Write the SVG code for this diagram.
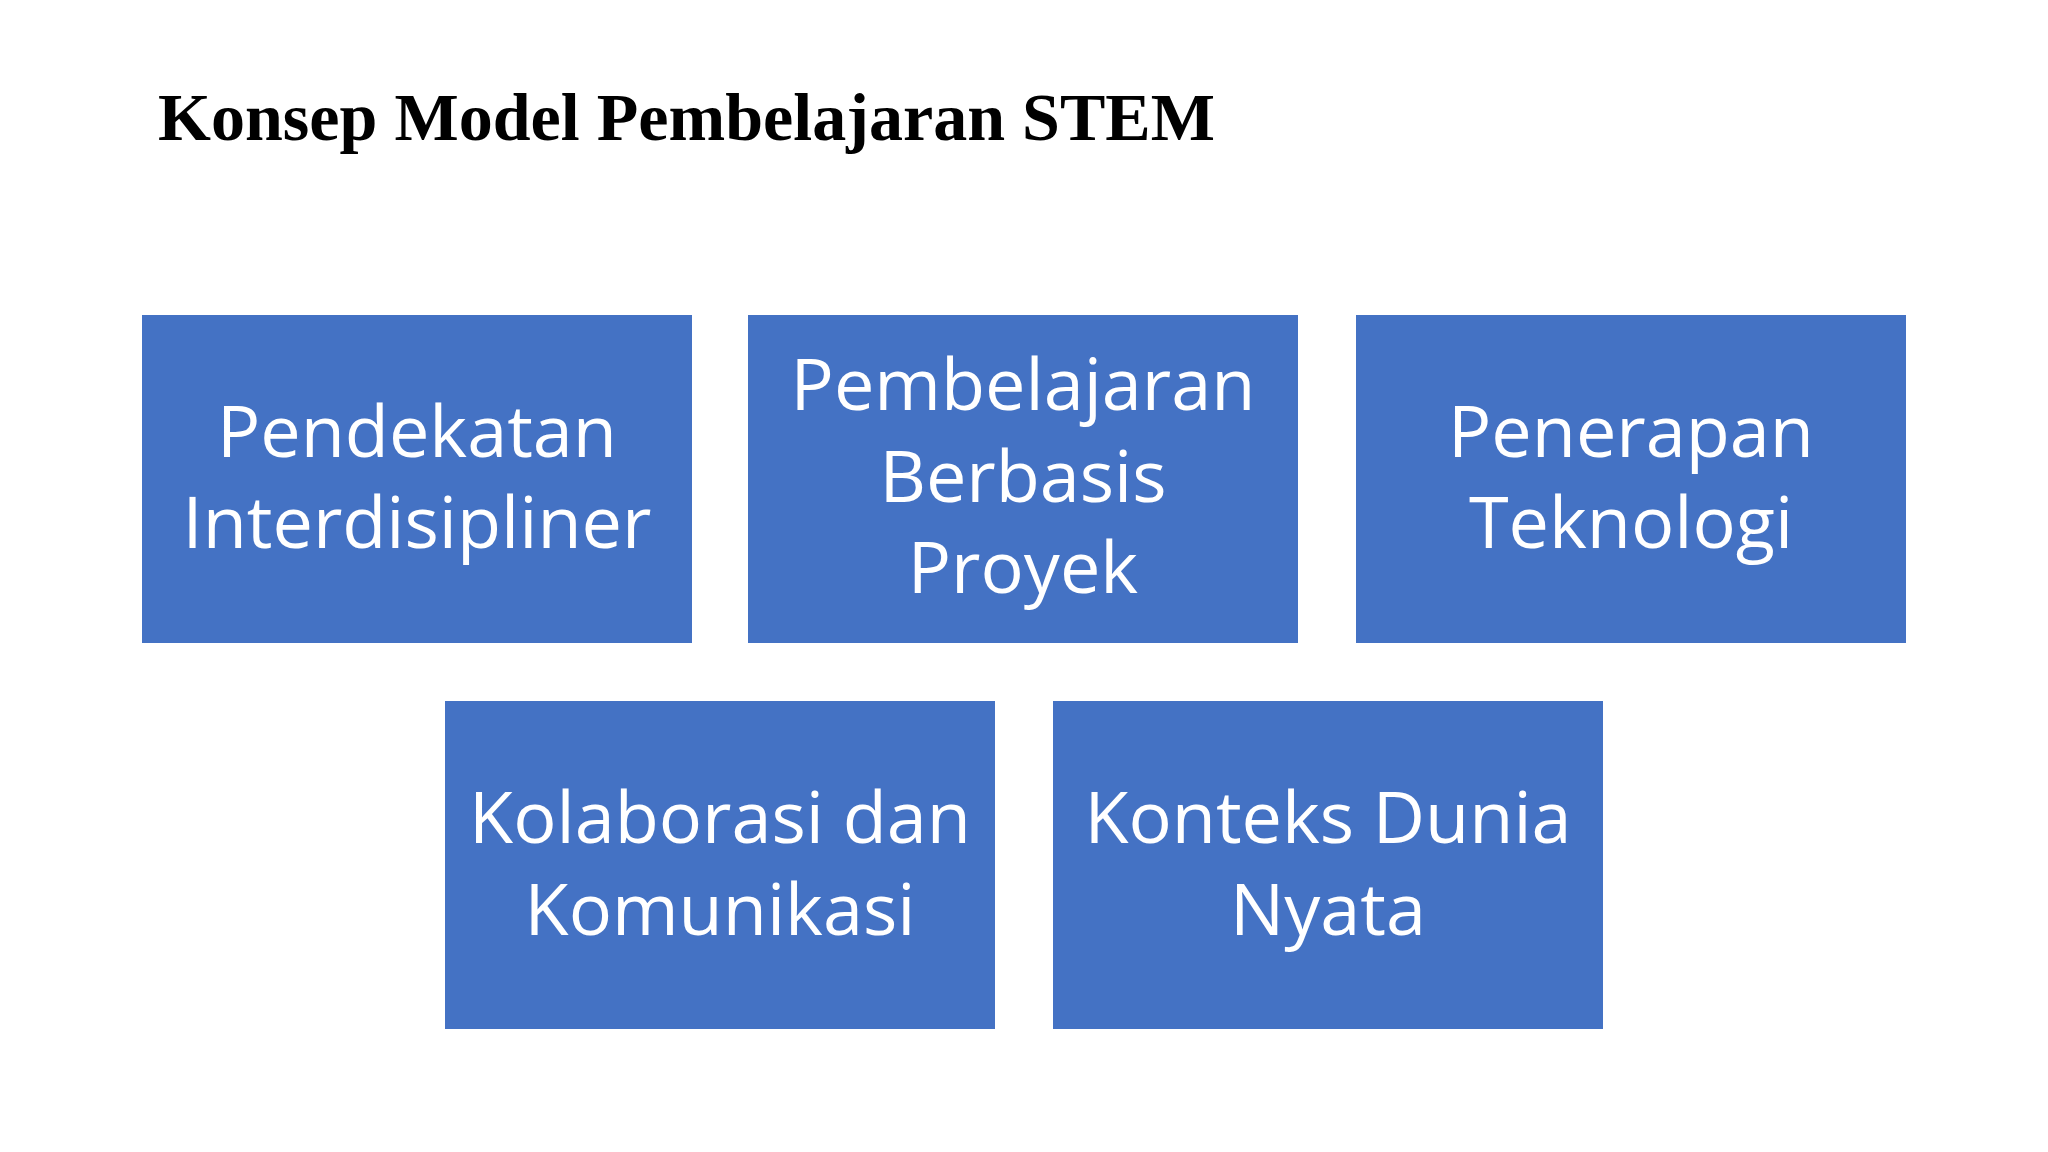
<svg xmlns="http://www.w3.org/2000/svg" width="2048" height="1152" viewBox="0 0 2048 1152">
<style>
.box{fill:#4472C4;}
.lbl{font-family:"Open Sans","Noto Sans",sans-serif;font-size:72px;fill:#FFFFFF;text-anchor:middle;}
.title{font-family:"Liberation Serif","Times New Roman",serif;font-weight:bold;font-size:67px;fill:#000000;}
</style>
<rect width="2048" height="1152" fill="#FFFFFF"/>
<text class="title" x="158" y="140" textLength="1057" lengthAdjust="spacingAndGlyphs">Konsep Model Pembelajaran STEM</text>
<g id="connectors"></g>
<g id="node-pendekatan">
<rect class="box" x="142" y="315" width="550" height="328"/>
<text class="lbl" x="417" y="457">Pendekatan</text>
<text class="lbl" x="417" y="548">Interdisipliner</text>
</g>
<g id="node-pembelajaran">
<rect class="box" x="748" y="315" width="550" height="328"/>
<text class="lbl" x="1023" y="410">Pembelajaran</text>
<text class="lbl" x="1023" y="502">Berbasis</text>
<text class="lbl" x="1023" y="593">Proyek</text>
</g>
<g id="node-teknologi">
<rect class="box" x="1356" y="315" width="550" height="328"/>
<text class="lbl" x="1631" y="457">Penerapan</text>
<text class="lbl" x="1631" y="548">Teknologi</text>
</g>
<g id="node-kolaborasi">
<rect class="box" x="445" y="701" width="550" height="328"/>
<text class="lbl" x="720" y="843">Kolaborasi dan</text>
<text class="lbl" x="720" y="935">Komunikasi</text>
</g>
<g id="node-konteks">
<rect class="box" x="1053" y="701" width="550" height="328"/>
<text class="lbl" x="1328" y="843">Konteks Dunia</text>
<text class="lbl" x="1328" y="935">Nyata</text>
</g>
</svg>
